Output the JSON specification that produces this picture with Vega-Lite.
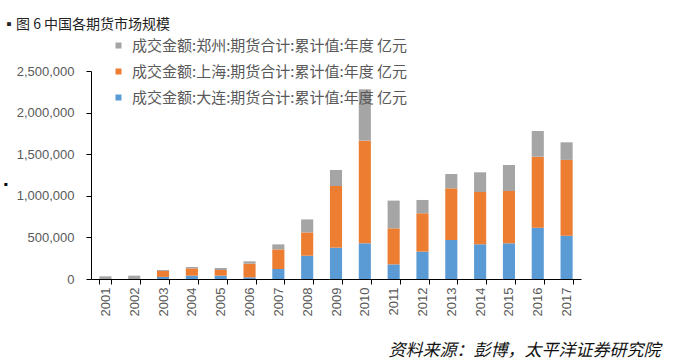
{
  "$schema": "https://vega.github.io/schema/vega-lite/v6.json",
  "autosize": "none",
  "width": 490,
  "height": 208,
  "padding": {"left": 91, "top": 71, "right": 99, "bottom": 85},
  "background": "white",
  "title": {
    "text": "▪图 6 中国各期货市场规模",
    "anchor": "start",
    "frame": "group",
    "orient": "top",
    "dx": -89,
    "offset": 6,
    "fontSize": 14,
    "fontWeight": "normal",
    "font": "Noto Sans CJK SC",
    "color": "#222222"
  },
  "data": {
    "values": [
      {"年份": "2001", "市场": "大连", "成交金额": 0},
      {"年份": "2001", "市场": "上海", "成交金额": 0},
      {"年份": "2001", "市场": "郑州", "成交金额": 32000},
      {"年份": "2002", "市场": "大连", "成交金额": 0},
      {"年份": "2002", "市场": "上海", "成交金额": 0},
      {"年份": "2002", "市场": "郑州", "成交金额": 40000},
      {"年份": "2003", "市场": "大连", "成交金额": 25000},
      {"年份": "2003", "市场": "上海", "成交金额": 72000},
      {"年份": "2003", "市场": "郑州", "成交金额": 11000},
      {"年份": "2004", "市场": "大连", "成交金额": 40000},
      {"年份": "2004", "市场": "上海", "成交金额": 88000},
      {"年份": "2004", "市场": "郑州", "成交金额": 16000},
      {"年份": "2005", "市场": "大连", "成交金额": 40000},
      {"年份": "2005", "市场": "上海", "成交金额": 68000},
      {"年份": "2005", "市场": "郑州", "成交金额": 24000},
      {"年份": "2006", "市场": "大连", "成交金额": 20000},
      {"年份": "2006", "市场": "上海", "成交金额": 164000},
      {"年份": "2006", "市场": "郑州", "成交金额": 28000},
      {"年份": "2007", "市场": "大连", "成交金额": 120000},
      {"年份": "2007", "市场": "上海", "成交金额": 236000},
      {"年份": "2007", "市场": "郑州", "成交金额": 60000},
      {"年份": "2008", "市场": "大连", "成交金额": 280000},
      {"年份": "2008", "市场": "上海", "成交金额": 280000},
      {"年份": "2008", "市场": "郑州", "成交金额": 156000},
      {"年份": "2009", "市场": "大连", "成交金额": 377000},
      {"年份": "2009", "市场": "上海", "成交金额": 741000},
      {"年份": "2009", "市场": "郑州", "成交金额": 192000},
      {"年份": "2010", "市场": "大连", "成交金额": 429000},
      {"年份": "2010", "市场": "上海", "成交金额": 1234000},
      {"年份": "2010", "市场": "郑州", "成交金额": 617000},
      {"年份": "2011", "市场": "大连", "成交金额": 176000},
      {"年份": "2011", "市场": "上海", "成交金额": 433000},
      {"年份": "2011", "市场": "郑州", "成交金额": 333000},
      {"年份": "2012", "市场": "大连", "成交金额": 329000},
      {"年份": "2012", "市场": "上海", "成交金额": 461000},
      {"年份": "2012", "市场": "郑州", "成交金额": 160000},
      {"年份": "2013", "市场": "大连", "成交金额": 469000},
      {"年份": "2013", "市场": "上海", "成交金额": 621000},
      {"年份": "2013", "市场": "郑州", "成交金额": 172000},
      {"年份": "2014", "市场": "大连", "成交金额": 417000},
      {"年份": "2014", "市场": "上海", "成交金额": 629000},
      {"年份": "2014", "市场": "郑州", "成交金额": 236000},
      {"年份": "2015", "市场": "大连", "成交金额": 429000},
      {"年份": "2015", "市场": "上海", "成交金额": 629000},
      {"年份": "2015", "市场": "郑州", "成交金额": 312000},
      {"年份": "2016", "市场": "大连", "成交金额": 617000},
      {"年份": "2016", "市场": "上海", "成交金额": 853000},
      {"年份": "2016", "市场": "郑州", "成交金额": 309000},
      {"年份": "2017", "市场": "大连", "成交金额": 521000},
      {"年份": "2017", "市场": "上海", "成交金额": 910000},
      {"年份": "2017", "市场": "郑州", "成交金额": 212000}
    ]
  },
  "transform": [
    {"calculate": "indexof(['大连','上海','郑州'], datum['市场'])", "as": "堆叠序"},
    {"calculate": "'成交金额:' + datum['市场'] + ':期货合计:累计值:年度 亿元'", "as": "系列"}
  ],
  "mark": {"type": "bar"},
  "encoding": {
    "x": {
      "field": "年份",
      "type": "nominal",
      "scale": {"paddingInner": 0.58, "paddingOuter": 0.29},
      "axis": {
        "labelAngle": -90,
        "labelAlign": "right",
        "labelBaseline": "middle",
        "labelFont": "Liberation Sans",
        "labelFontSize": 13,
        "labelColor": "#595959",
        "labelPadding": 3,
        "tickBand": "extent",
        "tickSize": 5,
        "tickColor": "#000000",
        "domainColor": "#000000",
        "title": "资料来源：彭博，太平洋证券研究院",
        "titleFont": "Noto Sans CJK SC",
        "titleFontStyle": "italic",
        "titleFontWeight": "normal",
        "titleFontSize": 17,
        "titleColor": "#111111",
        "titleAnchor": "end",
        "titleAlign": "right",
        "titleBaseline": "middle",
        "titleX": 569,
        "titleY": 71
      }
    },
    "y": {
      "field": "成交金额",
      "type": "quantitative",
      "stack": "zero",
      "scale": {"domain": [0, 2500000], "nice": false},
      "axis": {
        "values": [0, 500000, 1000000, 1500000, 2000000, 2500000],
        "format": ",d",
        "grid": false,
        "labelFont": "Liberation Sans",
        "labelFontSize": 13,
        "labelColor": "#595959",
        "labelPadding": 12,
        "tickSize": 5,
        "tickColor": "#000000",
        "domainColor": "#000000",
        "title": "▪",
        "titleAngle": 0,
        "titleFontSize": 12,
        "titleColor": "#000000",
        "titleX": -86,
        "titleY": 112,
        "titleAlign": "center",
        "titleBaseline": "middle"
      }
    },
    "color": {
      "field": "系列",
      "type": "nominal",
      "sort": [
        "成交金额:郑州:期货合计:累计值:年度 亿元",
        "成交金额:上海:期货合计:累计值:年度 亿元",
        "成交金额:大连:期货合计:累计值:年度 亿元"
      ],
      "scale": {
        "domain": [
          "成交金额:郑州:期货合计:累计值:年度 亿元",
          "成交金额:上海:期货合计:累计值:年度 亿元",
          "成交金额:大连:期货合计:累计值:年度 亿元"
        ],
        "range": ["#A5A5A5", "#ED7D31", "#5B9BD5"]
      },
      "legend": {
        "orient": "none",
        "legendX": 20,
        "legendY": -33,
        "title": null,
        "symbolType": "square",
        "symbolSize": 36,
        "symbolStrokeWidth": 0,
        "labelFont": "Noto Sans CJK SC",
        "labelFontSize": 15,
        "labelColor": "#595959",
        "labelOffset": 6,
        "labelLimit": 400,
        "rowPadding": 10
      }
    },
    "order": {"field": "堆叠序", "type": "quantitative", "sort": "ascending"}
  },
  "config": {
    "view": {"stroke": null},
    "axis": {"domainWidth": 1, "tickWidth": 1}
  }
}
